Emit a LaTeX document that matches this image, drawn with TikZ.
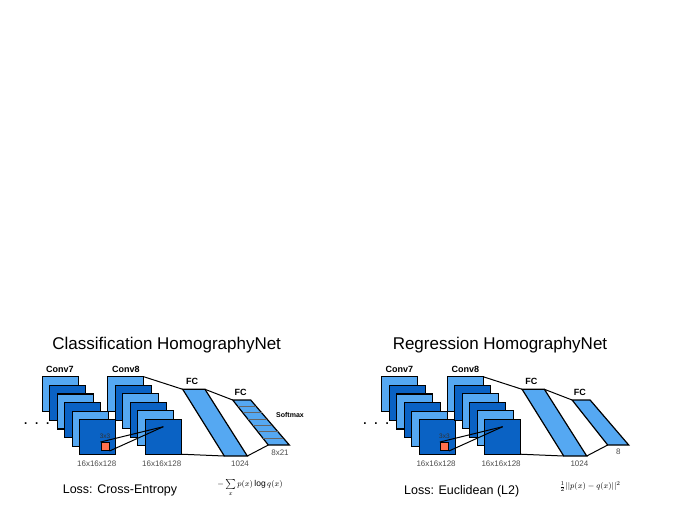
\documentclass[tikz,border=0pt]{standalone}
\usepackage{fontspec}
\setmainfont{Liberation Sans}
\usetikzlibrary{calc}
\begin{document}
\begin{tikzpicture}[x=1pt,y=-1pt,
  lb/.style={fill=lightb,draw=black,line width=1.2pt},
  db/.style={fill=darkb,draw=black,line width=1.2pt},
  conn/.style={draw=black,line width=1pt},
  bold/.style={font=\bfseries\fontsize{9}{10}\selectfont},
  small/.style={font=\fontsize{8}{9}\selectfont,text=black!70},
  title/.style={font=\fontsize{17}{19}\selectfont},
  loss/.style={font=\fontsize{12.5}{14}\selectfont}]
\definecolor{lightb}{HTML}{55A8F2}
\definecolor{darkb}{HTML}{0A62C4}
\useasboundingbox (0,0) rectangle (676,507);
\foreach \dx/\cls in {0/1,339.4/0}{
\begin{scope}[xshift=\dx pt]
  % Conv7 stack
  \foreach \i in {0,...,5}{
    \pgfmathsetmacro{\xx}{42.3+7.5*\i}
    \pgfmathsetmacro{\yy}{376.7+8.6*\i}
    \pgfmathparse{mod(\i,2)==0?"lb":"db"}
    \edef\st{\pgfmathresult}
    \path[style=\st] (\xx,\yy) rectangle ++(36,35);
  }
  % Conv8 stack
  \foreach \i in {0,...,5}{
    \pgfmathsetmacro{\xx}{107.7+7.5*\i}
    \pgfmathsetmacro{\yy}{376.7+8.5*\i}
    \pgfmathparse{mod(\i,2)==0?"lb":"db"}
    \edef\st{\pgfmathresult}
    \path[style=\st] (\xx,\yy) rectangle ++(36,35);
  }
  \coordinate (c8tr) at (143.7,376.7);
  \coordinate (c8br) at (181.2,454.2);
  % FC1
  \coordinate (f1tl) at (182.7,389.3); \coordinate (f1tr) at (205,389.3);
  \coordinate (f1br) at (247.3,456);   \coordinate (f1bl) at (224.3,456);
  \path[lb] (f1tl) -- (f1tr) -- (f1br) -- (f1bl) -- cycle;
  % FC2
  \coordinate (f2tl) at (232.7,400); \coordinate (f2tr) at (250.7,400);
  \coordinate (f2br) at (289.3,445); \coordinate (f2bl) at (268.3,445);
  \path[lb] (f2tl) -- (f2tr) -- (f2br) -- (f2bl) -- cycle;
  \ifnum\cls=1
    \foreach \t in {0.14,0.28,...,0.9}{
      \draw[black!60,line width=0.4pt] ($(f2tl)!\t!(f2bl)$) -- ($(f2tr)!\t!(f2br)$);
    }
  \fi
  \draw[conn] (c8tr) -- (f1tl);
  \draw[conn] (c8br) -- (f1bl);
  \draw[conn] (f1tr) -- (f2tl);
  \draw[conn] (f1br) -- (f2bl);
  % kernel
  \node[draw=black,line width=1pt,fill=red!60!orange!70,minimum size=8pt,inner sep=0pt] (k) at (105,446.5) {};
  \coordinate (tgt) at (163.3,426.7);
  \draw[conn] (k.north west) -- (tgt);
  \draw[conn] (k.south east) -- (tgt);
  \node[font=\fontsize{6.5}{7}\selectfont,text=black!80] (k3) at (105,436) {3x3};
  % labels
  \node[bold] (l7) at (60,369.5) {Conv7};
  \node[bold] (l8) at (126,369.5) {Conv8};
  \node[bold] (lf1) at (192,381.5) {FC};
  \node[bold] (lf2) at (240.5,392) {FC};
  \node[small] (s1) at (96.7,463.3) {16x16x128};
  \node[small] (s2) at (161.7,463.3) {16x16x128};
  \node[small] (s3) at (240,463.3) {1024};
  \node[font=\fontsize{17}{17}\selectfont] (dots) at (36.7,424) {. . .};
\end{scope}
}
\node[font=\bfseries\fontsize{7}{8}\selectfont] (sm) at (290,415) {Softmax};
\node[small] (o1) at (280,453) {8x21};
\node[small] (o2) at (618.3,451.7) {8};
\node[title] (t1) at (166.7,345) {Classification HomographyNet};
\node[title] (t2) at (500,345) {Regression HomographyNet};
\node[loss] (ls1) at (120,490) {Loss: Cross-Entropy};
\node[loss] (ls2) at (461.7,491.7) {Loss: Euclidean (L2)};
\node[font=\fontsize{8.5}{9}\selectfont] (e1) at (250,488) {$-\sum\limits_x p(x)\log q(x)$};
\node[font=\fontsize{8.5}{9}\selectfont] (e2) at (590,486.7) {$\frac{1}{2}||p(x)-q(x)||^2$};
\end{tikzpicture}
\end{document}
